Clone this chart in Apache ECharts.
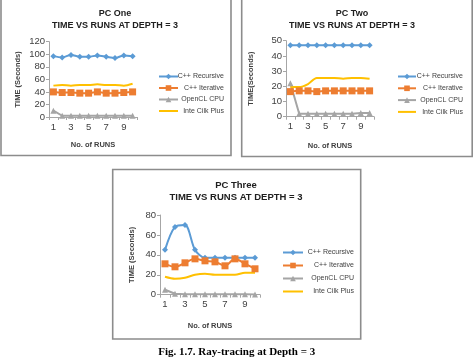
<!DOCTYPE html>
<html>
<head>
<meta charset="utf-8">
<script src="https://cdn.jsdelivr.net/npm/echarts@6/dist/echarts.min.js"></script>
<style>html,body{margin:0;padding:0;background:#fff;}#c{width:474px;height:359px;}</style>
</head>
<body>
<div id="c"></div>
<script>
var runs = ['1','2','3','4','5','6','7','8','9','10'];
var seriesNames = ['C++ Recursive', 'C++ Iterative', 'OpenCL CPU', 'Inte Cilk Plus'];

var pc1Recursive = [97, 95, 99, 96, 96, 98, 96, 94, 98, 97];
var pc1Iterative = [40, 39, 39, 38, 38, 40, 38, 38, 39, 40];
var pc1OpenCL    = [10, 2, 2, 2, 2, 2, 2, 2, 2, 2];
var pc1Cilk      = [50, 51, 50, 51, 51, 52, 51, 51, 50, 53];

var pc2Recursive = [47, 47, 47, 47, 47, 47, 47, 47, 47, 47];
var pc2Iterative = [16.5, 17, 17, 16.5, 17, 17, 17, 17, 17, 17];
var pc2OpenCL    = [22, 2, 2, 2, 2, 2, 2, 2, 2.5, 2.5];
var pc2Cilk      = [19.5, 19.5, 21.5, 25.5, 25.5, 25.5, 25, 25.5, 25.5, 25];

var pc3Recursive = [45, 68, 70, 45, 37, 37, 37, 37, 37, 37];
var pc3Iterative = [31, 28, 32, 36, 34, 33, 29, 36, 31, 26];
var pc3OpenCL    = [5, 1, 0.5, 0.5, 0.5, 0.5, 0.5, 0.5, 0.5, 0.3];
var pc3Cilk      = [18, 16, 17, 20, 21, 20, 20, 20, 22, 22];

var panelTitles = ['PC One', 'PC Two', 'PC Three'];
var subTitle = 'TIME VS RUNS AT DEPTH = 3';
var yNames = ['TIME (Seconds)', 'TIME(Seconds)', 'TIME (Seconds)'];
var xName = 'No. of RUNS';
var yMax = [120, 50, 80];
var yStep = [20, 10, 20];
var caption = 'Fig. 1.7. Ray-tracing at Depth = 3';

var colors = ['#5B9BD5', '#ED7D31', '#A5A5A5', '#FFC000'];
var symbols = ['diamond', 'rect', 'triangle', 'none'];
var symbolSizes = [6, 7, 6, 0];
var smoothing = [0.3, 0.3, false, 0.3];
var panelData = [
  [pc1Recursive, pc1Iterative, pc1OpenCL, pc1Cilk],
  [pc2Recursive, pc2Iterative, pc2OpenCL, pc2Cilk],
  [pc3Recursive, pc3Iterative, pc3OpenCL, pc3Cilk]
];

// layout
var grids = [
  {left: 49, top: 41.7, width: 88, height: 75.3},
  {left: 286, top: 40.7, width: 88, height: 76},
  {left: 160, top: 215, width: 100, height: 79.7}
];
var yNameGap = [27, 31, 24];
var xNameGap = [24, 25, 27];
var legendPos = [
  {left: 153, top: 68, itemWidth: 19, gap: 4.5, textW: 45},
  {left: 392, top: 68, itemWidth: 18, gap: 4.8, textW: 46},
  {left: 277, top: 244, itemWidth: 20, gap: 6, textW: 50}
];
var titlePos = [
  {x: 115, y1: 14, y2: 25.5, fs: 9},
  {x: 352, y1: 14, y2: 25.5, fs: 9},
  {x: 236, y1: 185, y2: 197, fs: 9.5}
];
var frames = [
  {x: 1, y: -10, w: 230, h: 165.5},
  {x: 241.7, y: -10, w: 230.5, h: 166.5},
  {x: 112.7, y: 169.5, w: 248, h: 169.5}
];

var chart = echarts.init(document.getElementById('c'), null, {renderer: 'canvas'});
var FONT = 'Liberation Sans';
var option = {
  animation: false,
  backgroundColor: '#ffffff',
  grid: [], xAxis: [], yAxis: [], series: [], legend: [], graphic: []
};

for (var p = 0; p < 3; p++) {
  option.grid.push(grids[p]);
  option.xAxis.push({
    type: 'category', gridIndex: p, data: runs, boundaryGap: true,
    name: xName, nameLocation: 'middle', nameGap: xNameGap[p],
    nameTextStyle: {fontFamily: FONT, fontWeight: 'bold', fontSize: 7.5, color: '#404040'},
    axisLine: {lineStyle: {color: '#A6A6A6', width: 1}},
    axisTick: {show: true, interval: 0, length: 3, lineStyle: {color: '#A6A6A6'}},
    axisLabel: {interval: 1, fontFamily: FONT, fontSize: 9.5, color: '#404040', margin: 5},
    splitLine: {show: false}
  });
  option.yAxis.push({
    type: 'value', gridIndex: p, min: 0, max: yMax[p], interval: yStep[p],
    name: yNames[p], nameLocation: 'middle', nameGap: yNameGap[p], nameRotate: 90,
    nameTextStyle: {fontFamily: FONT, fontWeight: 'bold', fontSize: 7.5, color: '#404040'},
    axisLine: {show: true, lineStyle: {color: '#A6A6A6', width: 1}},
    axisTick: {show: true, length: 3, lineStyle: {color: '#A6A6A6'}},
    axisLabel: {fontFamily: FONT, fontSize: 9.5, color: '#404040', margin: 4},
    splitLine: {show: false}
  });
  for (var s = 0; s < 4; s++) {
    option.series.push({
      type: 'line', name: seriesNames[s], xAxisIndex: p, yAxisIndex: p,
      data: panelData[p][s], smooth: smoothing[s],
      symbol: symbols[s], symbolSize: symbolSizes[s], showSymbol: s < 3, showAllSymbol: true,
      color: colors[s],
      lineStyle: {color: colors[s], width: 2},
      itemStyle: {color: colors[s]}
    });
  }
  var lp = legendPos[p];
  option.legend.push({
    orient: 'vertical', left: lp.left, top: lp.top,
    itemWidth: lp.itemWidth, itemHeight: 7, itemGap: lp.gap,
    selectedMode: false,
    data: [
      {name: seriesNames[0]},
      {name: seriesNames[1]},
      {name: seriesNames[2]},
      {name: seriesNames[3], itemStyle: {opacity: 0}}
    ],
    formatter: '{a|{name}}',
    textStyle: {
      fontFamily: FONT, fontSize: 7, color: '#404040', padding: [0, 0, 0, -4],
      rich: {a: {width: lp.textW, align: 'right', fontFamily: FONT, fontSize: 7, color: '#404040', lineHeight: 9}}
    }
  });
  var tp = titlePos[p];
  option.graphic.push({
    type: 'text', x: tp.x, y: tp.y1, silent: true,
    style: {text: panelTitles[p], font: 'bold ' + tp.fs + 'px "' + FONT + '"', fill: '#202020', textAlign: 'center', textVerticalAlign: 'middle'}
  });
  option.graphic.push({
    type: 'text', x: tp.x, y: tp.y2, silent: true,
    style: {text: subTitle, font: 'bold ' + tp.fs + 'px "' + FONT + '"', fill: '#202020', textAlign: 'center', textVerticalAlign: 'middle'}
  });
  var fr = frames[p];
  option.graphic.push({
    type: 'rect', silent: true, z: -10,
    shape: {x: fr.x, y: fr.y, width: fr.w, height: fr.h},
    style: {fill: 'none', stroke: '#8C8C8C', lineWidth: 1.6}
  });
}
option.graphic.push({
  type: 'text', x: 236.7, y: 352.5, silent: true,
  style: {text: caption, font: 'bold 11px "Liberation Serif"', fill: '#000000', textAlign: 'center', textVerticalAlign: 'middle'}
});

chart.setOption(option);
</script>
</body>
</html>
